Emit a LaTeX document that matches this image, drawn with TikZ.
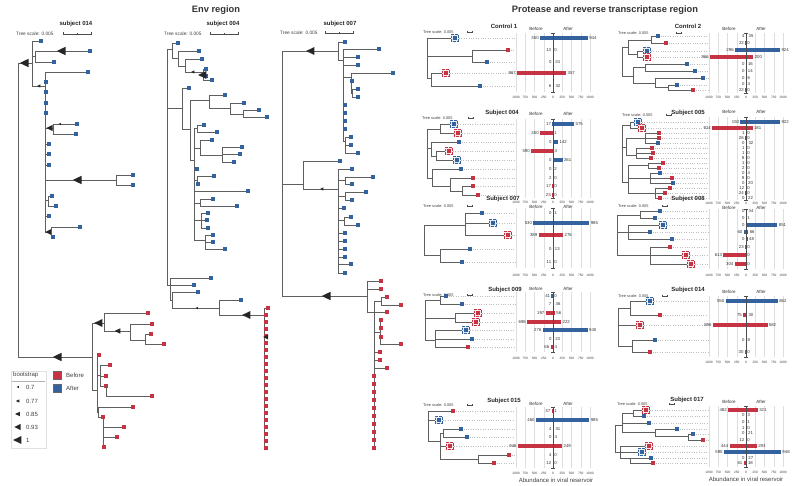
\documentclass[tikz,border=0pt]{standalone}
\usepackage{fontspec}
\setmainfont{Liberation Sans}
\definecolor{cB}{RGB}{52,98,158}
\definecolor{cR}{RGB}{198,52,68}
\definecolor{tg}{RGB}{95,95,95}
\definecolor{gl}{RGB}{222,222,222}
\tikzset{
  br/.style={draw=tg, line width=0.7pt},
  guide/.style={draw=black!25, line width=0.4pt, dotted},
  gridl/.style={draw=gl, line width=0.5pt},
  axisl/.style={draw=black!70, line width=0.6pt},
  ttl/.style={font=\fontsize{9.3}{10}\selectfont\bfseries, text=black!80, inner sep=0pt},
  subt/.style={font=\fontsize{6}{7}\selectfont\bfseries, text=black!85, inner sep=0pt},
  tse/.style={font=\fontsize{4.8}{5}\selectfont, text=black!75, inner sep=0pt, anchor=west},
  tsp/.style={font=\fontsize{3.9}{4}\selectfont, text=black!75, inner sep=0pt, anchor=west},
  num/.style={font=\fontsize{4.3}{5}\selectfont, text=black!80, inner sep=0pt},
  tick/.style={font=\fontsize{3.2}{4}\selectfont, text=black!75, inner sep=0pt},
  hd/.style={font=\fontsize{4.5}{5}\selectfont, text=black!80, inner sep=0pt},
  legt/.style={font=\fontsize{6}{7}\selectfont, text=black!75, inner sep=0pt, anchor=west},
}
\newcommand\Hl[3]{\draw[br] (#1,#3) -- (#2,#3);}
\newcommand\Vl[3]{\draw[br] (#1,#2) -- (#1,#3);}
\newcommand\LfB[3]{\draw[br] (#1,#2) -- (#3,#2); \fill[cB] (#3,#2) +(-1.8,-1.8) rectangle +(1.8,1.8);}
\newcommand\LfR[3]{\draw[br] (#1,#2) -- (#3,#2); \fill[cR] (#3,#2) +(-1.8,-1.8) rectangle +(1.8,1.8);}
\newcommand\Bt[3]{\fill[black!85] ({#1-#3*0.75},#2) -- ({#1+#3*0.5},{#2-#3*0.6}) -- ({#1+#3*0.5},{#2+#3*0.6}) -- cycle;}
\def\gx{515}
\newcommand\PB[3]{\draw[guide] ({#3+2.5},#2) -- (\gx,#2); \LfB{#1}{#2}{#3}}
\newcommand\PR[3]{\draw[guide] ({#3+2.5},#2) -- (\gx,#2); \LfR{#1}{#2}{#3}}
\newcommand\PBx[3]{\draw[guide] ({#3+4},#2) -- (\gx,#2); \draw[br] (#1,#2) -- ({#3-3.6},#2); \filldraw[cB, fill=cB!12, densely dotted, line width=0.4pt] (#3,#2) +(-3.6,-3.6) rectangle +(3.6,3.6); \fill[cB] (#3,#2) +(-1.7,-1.7) rectangle +(1.7,1.7);}
\newcommand\PRx[3]{\draw[guide] ({#3+4},#2) -- (\gx,#2); \draw[br] (#1,#2) -- ({#3-3.6},#2); \filldraw[cR, fill=cR!12, densely dotted, line width=0.4pt] (#3,#2) +(-3.6,-3.6) rectangle +(3.6,3.6); \fill[cR] (#3,#2) +(-1.7,-1.7) rectangle +(1.7,1.7);}
\newcommand\Chart[4]{%
  \foreach \k in {-4,...,4} {\draw[gridl] ({#1+\k*9.25},#2) -- ({#1+\k*9.25},#3);}
  \foreach \k/\t in {-4/1000,-3/750,-2/500,-1/250,0/0,1/250,2/500,3/750,4/1000}
    {\node[tick] (tk#1x\k) at ({#1+\k*9.25},#4) {\t};}
}
\newcommand\Axis[3]{\draw[axisl] (#1,#2) -- (#1,#3) ({#1-1.8},#2) -- ({#1+1.8},#2) ({#1-1.8},#3) -- ({#1+1.8},#3);}
\newcommand\Brow[5]{%
  \fill[#5] ({#1-#3*0.037},{#2-2}) rectangle ({#1+#4*0.037},{#2+2});
  \node[num,anchor=east] (nl#1x#2) at ({#1-#3*0.037-1.2},#2) {#3};
  \node[num,anchor=west] (nr#1x#2) at ({#1+#4*0.037+1.2},#2) {#4};}
\newcommand\Heads[2]{\node[hd] (hb#1x#2) at ({#1-17},#2) {Before}; \node[hd] (ha#1x#2) at ({#1+15},#2) {After};}
\newcommand\TSp[3]{\node[tsp] (tsp#1x#2) at (#1,#2) {Tree scale: 0.005}; \draw[black!70, line width=0.4pt] (#3,#2) -- ({#3+5},#2) (#3,{#2-1}) -- (#3,{#2+1}) ({#3+5},{#2-1}) -- ({#3+5},{#2+1});}
\newcommand\TSe[3]{\node[tse] (tse#1) at (#1,#2) {Tree scale: 0.005}; \draw[black!70, line width=0.5pt] (#3,#2) -- ({#3+28},#2) (#3,{#2-1.5}) -- (#3,{#2+1.5}) ({#3+14},{#2-1}) -- ({#3+14},{#2+1}) ({#3+28},{#2-1.5}) -- ({#3+28},{#2+1.5});}

\begin{document}
\begin{tikzpicture}[x=1pt,y=-1pt]
\useasboundingbox (0,0) rectangle (798,486);
\fill[white] (0,0) rectangle (798,486);

% ---------------- titles
\node[ttl] (envt) at (216,10) {Env region};
\node[ttl] (prt) at (605,10) {Protease and reverse transcriptase region};

% ---------------- Env subject 014
\node[subt] (s14) at (76,24) {subject 014};
\TSe{16}{34}{63}
\Vl{18}{63}{357}
\Hl{18}{32}{63} \Bt{25}{63}{7}
\Vl{32}{41}{86}
\LfB{32}{41}{41}
\Hl{32}{35}{56} \Vl{35}{51}{62} \LfB{35}{51}{90} \Bt{62}{51}{7} \LfB{35}{62}{54}
\Hl{32}{45}{86} \Bt{39}{86}{2.5}
\Vl{45}{72}{232}
\LfB{45}{72}{88}
\LfB{45}{82}{46} \LfB{45}{92}{46} \LfB{45}{103}{46} \LfB{45}{113}{46}
\Hl{45}{53}{128} \Bt{50}{128}{5} \Vl{53}{124}{134} \LfB{53}{124}{77} \Bt{60}{124}{1.8} \LfB{53}{134}{76}
\LfB{45}{144}{49} \LfB{45}{154}{49} \LfB{45}{165}{49}
\Hl{45}{116}{180} \Bt{78}{180}{7} \Vl{116}{175}{185} \LfB{116}{175}{133} \LfB{116}{185}{133}
\Hl{45}{48}{200} \Vl{48}{196}{206} \LfB{48}{196}{52} \LfB{48}{206}{56}
\LfB{45}{216}{49}
\Hl{45}{51}{232} \Bt{49}{232}{5} \Vl{51}{227}{237} \LfB{51}{227}{80} \LfB{51}{237}{53}
\Hl{18}{92}{357} \Bt{58}{357}{7}
\Vl{92}{323}{390}
\Hl{92}{104}{323} \Bt{99}{323}{6.5}
\Vl{104}{313}{331}
\LfR{104}{313}{148}
\Hl{104}{130}{331} \Bt{118}{331}{4.5}
\Vl{130}{324}{340}
\LfR{130}{324}{152}
\Hl{130}{145}{340} \Vl{145}{334}{344} \LfR{145}{334}{151} \LfR{145}{344}{164}
\Hl{92}{97}{390}
\Vl{97}{355}{412}
\LfR{97}{355}{99}
\Hl{97}{100}{375} \Vl{100}{365}{386} \LfR{100}{365}{110} \LfR{100}{376}{106} \LfR{100}{386}{106}
\Vl{106}{386}{396} \LfR{106}{396}{152}
\Hl{97}{98}{412} \Vl{98}{407}{417} \LfR{98}{407}{133} \LfR{98}{417}{103}
\Vl{103}{417}{447} \LfR{103}{427}{124} \LfR{103}{437}{117} \LfR{103}{447}{104}

% legend
\draw[black!12, line width=0.4pt] (11,371) rectangle (46,448);
\node[legt] (lgh) at (13,375) {bootstrap};
\draw[black!30, line width=0.4pt] (12,381) -- (45,381);
\Bt{18}{387}{1.8} \node[legt] (lg1) at (26,387) {0.7};
\Bt{18}{401}{2.8} \node[legt] (lg2) at (26,401) {0.77};
\Bt{18}{414}{3.8} \node[legt] (lg3) at (26,414) {0.85};
\Bt{18}{427}{5} \node[legt] (lg4) at (26,427) {0.93};
\Bt{18}{440}{6.5} \node[legt] (lg5) at (26,440) {1};
\filldraw[fill=cR, draw=black!60, line width=0.4pt] (53,371) rectangle (61,379);
\node[legt] (lgb) at (66,375) {Before};
\filldraw[fill=cB, draw=black!60, line width=0.4pt] (53,384) rectangle (61,392);
\node[legt] (lga) at (66,388) {After};

% ---------------- Env subject 004
\node[subt] (s04) at (223,24) {subject 004};
\TSe{164}{34}{210}
\Vl{167}{49}{285}
\Hl{167}{172}{49} \Vl{172}{43}{58}
\LfB{172}{43}{178}
\Hl{172}{178}{58} \Vl{178}{51}{66}
\LfB{178}{51}{199}
\Hl{178}{185}{66} \Vl{185}{59}{72}
\LfB{185}{59}{202}
\Hl{185}{203}{72} \Bt{193}{72}{2.5}
\Vl{203}{69}{80} \LfB{203}{69}{206} \LfB{203}{76}{206} \LfB{203}{80}{212} \Bt{203}{75}{6.5}
\Hl{167}{182}{108} \Vl{182}{88}{129} \LfB{182}{88}{189}
\Hl{182}{190}{129} \Vl{190}{100}{160}
\Hl{190}{209}{100} \Vl{209}{95}{108} \LfB{209}{95}{225}
\Hl{209}{230}{108} \Vl{230}{103}{114} \LfB{230}{103}{244}
\Hl{230}{243}{114} \Vl{243}{110}{117} \LfB{243}{110}{259} \LfB{243}{117}{267}
\Hl{190}{194}{160} \Vl{194}{128}{240}
\Hl{194}{197}{128} \Vl{197}{125}{132} \LfB{197}{125}{204} \LfB{197}{132}{217}
\Hl{194}{200}{148} \Vl{200}{140}{155} \LfB{200}{140}{212}
\Hl{200}{222}{155} \Vl{222}{147}{162} \LfB{222}{147}{242} \LfB{222}{154}{240} \LfB{222}{162}{234}
\LfB{194}{169}{197}
\Hl{194}{197}{180} \Vl{197}{176}{184} \LfB{197}{176}{214} \LfB{197}{184}{198}
\LfB{194}{191}{248}
\Hl{194}{200}{203} \Vl{200}{199}{206} \LfB{200}{199}{213} \LfB{200}{206}{237}
\Hl{194}{201}{220} \Vl{201}{213}{228} \LfB{201}{213}{208} \LfB{201}{220}{207} \LfB{201}{228}{208}
\Hl{194}{205}{240} \Vl{205}{235}{249} \LfB{205}{235}{213} \LfB{205}{242}{213} \LfB{205}{249}{225}
\Hl{167}{170}{285} \Vl{170}{278}{300}
\LfB{170}{278}{211} \LfB{170}{285}{194}
\Hl{170}{172}{300} \Vl{172}{292}{308}
\LfB{172}{292}{198}
\Hl{172}{219}{308} \Bt{197}{308}{1.8}
\Vl{219}{300}{315} \LfB{219}{300}{241}
\Hl{219}{264}{315} \Bt{247}{315}{6.5}
\Vl{264}{308}{448}
\LfR{264}{308}{268}
\foreach \yy in {315,322,...,448} {\LfR{264}{\yy}{266}}
\Bt{266}{337}{4}

% ---------------- Env subject 007
\node[subt] (s07) at (340,24) {subject 007};
\TSe{280}{33}{325}
\Vl{282}{51}{296}
\Hl{282}{338}{51} \Bt{311}{51}{6.5}
\Vl{338}{42}{60}
\LfB{338}{42}{345}
\Hl{338}{343}{60} \Vl{343}{49}{141}
\LfB{343}{49}{379} \LfB{343}{57}{358} \LfB{343}{65}{358}
\Hl{343}{351}{77} \Vl{351}{73}{93} \LfB{351}{73}{393} \LfB{351}{81}{352}
\Hl{351}{352}{93} \Vl{352}{89}{97} \LfB{352}{89}{358} \LfB{352}{97}{358}
\LfB{343}{105}{345} \LfB{343}{113}{345} \LfB{343}{121}{345} \LfB{343}{129}{345}
\Hl{343}{345}{141} \Vl{345}{137}{153} \LfB{345}{137}{351} \LfB{345}{145}{351} \LfB{345}{153}{358}
\Hl{282}{303}{184} \Vl{303}{161}{189}
\LfB{303}{161}{340}
\Hl{303}{338}{189} \Bt{322}{189}{2.5}
\Vl{338}{169}{273}
\LfB{338}{169}{352}
\Hl{338}{345}{180} \Vl{345}{177}{184} \LfB{345}{177}{373} \LfB{345}{184}{352}
\Hl{338}{345}{196} \Vl{345}{192}{200} \LfB{345}{192}{366} \LfB{345}{200}{352}
\LfB{338}{208}{344}
\Hl{338}{344}{220} \Vl{344}{217}{225} \LfB{344}{217}{351} \LfB{344}{225}{358}
\LfB{338}{233}{345} \LfB{338}{241}{345} \LfB{338}{249}{345} \LfB{338}{257}{345}
\Hl{338}{345}{264} \LfB{345}{264}{351}
\LfB{338}{273}{345}
\Hl{282}{367}{296} \Bt{327}{296}{7}
\Vl{367}{281}{312}
\LfR{367}{281}{381} \LfR{367}{289}{381}
\Hl{367}{374}{312} \Vl{374}{301}{448}
\Hl{374}{381}{301} \Vl{381}{297}{305} \LfR{381}{297}{387} \LfR{381}{305}{401}
\LfR{374}{312}{387}
\Hl{374}{380}{332} \Vl{380}{320}{344} \LfR{380}{320}{381} \LfR{380}{328}{381} \LfR{380}{337}{381} \LfR{380}{344}{401}
\LfR{374}{352}{380} \LfR{374}{360}{380} \LfR{374}{368}{387}
\foreach \yy in {376,384,...,448} {\LfR{374}{\yy}{374}}

% ================ Protease panels
% ---- Control 1
\def\gx{515}
\node[subt] (pc1) at (504,26) {Control 1};
\TSp{423}{32}{467}
\Chart{553}{33}{92}{97}
\Heads{553}{29}
\Vl{427}{38}{78}
\PBx{427}{38}{455}
\Hl{427}{472}{56} \Vl{472}{50}{62} \PR{472}{50}{508} \PB{472}{62}{487}
\Hl{427}{431}{78} \Vl{431}{73}{86} \PRx{431}{73}{446} \PB{431}{86}{480}
\Brow{553}{38}{350}{944}{cB} \Brow{553}{50}{13}{0}{cR} \Brow{553}{62}{0}{24}{cB}
\Brow{553}{73}{967}{357}{cR} \Brow{553}{86}{6}{32}{cB}
\Axis{553}{33}{92}

% ---- Control 2
\def\gx{708}
\node[subt] (pc2) at (688,26) {Control 2};
\TSp{618}{33}{676}
\Chart{746}{33}{93}{97}
\Heads{746}{29}
\Vl{622}{47}{76}
\Hl{622}{628}{47} \Vl{628}{40}{54}
\Hl{628}{651}{40} \Vl{651}{36}{43} \PB{651}{36}{658} \PR{651}{43}{666}
\Hl{628}{637}{54} \Vl{637}{51}{57} \PBx{637}{51}{647} \PRx{637}{57}{647}
\Hl{622}{633}{76} \Vl{633}{67}{83}
\Hl{633}{645}{67} \Vl{645}{64}{71} \PB{645}{64}{687} \PB{645}{71}{695}
\Hl{633}{655}{83} \Vl{655}{78}{87} \PB{655}{78}{703}
\Hl{655}{668}{87} \Vl{668}{85}{90} \PB{668}{85}{677} \PR{668}{90}{693}
\Brow{746}{36}{4}{35}{cB} \Brow{746}{43}{22}{0}{cR} \Brow{746}{50}{296}{924}{cB}
\Brow{746}{57}{966}{200}{cR} \Brow{746}{64}{0}{16}{cB} \Brow{746}{71}{0}{14}{cB}
\Brow{746}{78}{0}{6}{cB} \Brow{746}{84}{0}{4}{cB} \Brow{746}{90}{22}{0}{cR}
\Axis{746}{33}{93}

% ---- Subject 004
\def\gx{515}
\node[subt] (p04) at (502,113) {Subject 004};
\TSp{422}{118}{468}
\Chart{553}{119}{198}{202}
\Heads{553}{114}
\Vl{427}{129}{178}
\Hl{427}{440}{129} \Vl{440}{124}{133} \PBx{440}{124}{454} \PRx{440}{133}{458}
\Hl{427}{431}{148} \Vl{431}{142}{156} \PB{431}{142}{459}
\Hl{431}{436}{156} \Vl{436}{151}{160} \PRx{436}{151}{449} \PBx{436}{160}{457}
\Hl{427}{432}{178} \Vl{432}{169}{186} \PB{432}{169}{461}
\Hl{432}{450}{186} \Vl{450}{178}{191} \PR{450}{178}{473}
\Hl{450}{462}{191} \Vl{462}{186}{195} \PR{462}{186}{473} \PR{462}{195}{478}
\Brow{553}{124}{17}{575}{cB} \Brow{553}{133}{350}{1}{cR} \Brow{553}{142}{0}{142}{cB}
\Brow{553}{151}{590}{4}{cR} \Brow{553}{160}{0}{261}{cB} \Brow{553}{169}{0}{2}{cB}
\Brow{553}{178}{2}{0}{cR} \Brow{553}{186}{17}{0}{cR} \Brow{553}{195}{23}{0}{cR}
\Axis{553}{119}{198}

% ---- Subject 005
\def\gx{708}
\node[subt] (p05) at (688,113) {Subject 005};
\TSp{622}{115}{666}
\Chart{746}{117}{200.5}{203.5}
\Heads{746}{112}
\Vl{622}{125}{182}
\Hl{622}{630}{125} \Vl{630}{122}{128} \PBx{630}{122}{638} \PRx{630}{128}{642}
\Hl{622}{626}{147} \Vl{626}{138}{155}
\Hl{626}{645}{138} \Vl{645}{133}{143} \PR{645}{133}{659} \PR{645}{138}{659} \PB{645}{143}{658}
\Hl{626}{636}{155} \Vl{636}{148}{158} \PR{636}{148}{652} \PR{636}{153}{653} \PR{636}{158}{651}
\Hl{622}{628}{182} \Vl{628}{165}{193}
\Hl{628}{648}{165} \Vl{648}{163}{168} \PR{648}{163}{663} \PR{648}{168}{659}
\Hl{628}{650}{178} \Vl{650}{173}{183} \PB{650}{173}{660} \PR{650}{178}{672} \PB{650}{183}{673}
\Hl{628}{655}{193} \Vl{655}{188}{198} \PR{655}{188}{670} \PR{655}{193}{665} \PR{655}{198}{660}
\Brow{746}{122}{150}{922}{cB} \Brow{746}{128}{914}{181}{cR}
\Brow{746}{133}{1}{0}{cR} \Brow{746}{138}{26}{0}{cR} \Brow{746}{143}{0}{32}{cB}
\Brow{746}{148}{1}{0}{cR} \Brow{746}{153}{1}{0}{cR} \Brow{746}{158}{8}{0}{cR}
\Brow{746}{163}{1}{0}{cR} \Brow{746}{168}{2}{0}{cR} \Brow{746}{173}{0}{4}{cB}
\Brow{746}{178}{9}{0}{cR} \Brow{746}{183}{0}{20}{cB} \Brow{746}{188}{12}{0}{cR}
\Brow{746}{193}{24}{0}{cR} \Brow{746}{198}{0}{22}{cB}
\Axis{746}{117}{200.5}

% ---- Subject 007
\def\gx{515}
\node[subt] (p07) at (503,199) {Subject 007};
\TSp{423}{206}{467}
\Chart{553}{208}{268}{275}
\Heads{553}{207}
\Vl{424}{225}{255}
\Hl{424}{465}{225} \Vl{465}{213}{235} \PB{465}{213}{482} \PBx{465}{223}{493} \PRx{465}{235}{508}
\Hl{424}{440}{255} \Vl{440}{249}{262} \PB{440}{249}{470} \PB{440}{262}{462}
\Brow{553}{213}{0}{1}{cB} \Brow{553}{223}{530}{985}{cB} \Brow{553}{235}{389}{276}{cR}
\Brow{553}{249}{0}{13}{cB} \Brow{553}{262}{11}{0}{cB}
\Axis{553}{208}{268}

% ---- Subject 008
\def\gx{708}
\node[subt] (p08) at (688,199) {Subject 008};
\TSp{618}{206}{662}
\Chart{746}{209}{269}{275}
\Heads{746}{207.5}
\Vl{617}{215}{255}
\Hl{617}{640}{215} \Vl{640}{211}{218} \PB{640}{211}{660} \PB{640}{218}{655}
\Hl{617}{628}{232} \Vl{628}{225}{239} \PBx{628}{225}{663} \PB{628}{232}{650} \PB{628}{239}{672}
\Hl{617}{650}{255} \Vl{650}{247}{264} \PR{650}{247}{670} \PRx{650}{255}{686} \PRx{650}{264}{691}
\Brow{746}{211}{0}{34}{cB} \Brow{746}{218}{0}{1}{cB} \Brow{746}{225}{0}{851}{cB}
\Brow{746}{232}{60}{66}{cB} \Brow{746}{239}{0}{48}{cB} \Brow{746}{247}{23}{0}{cR}
\Brow{746}{255}{613}{0}{cR} \Brow{746}{264}{304}{0}{cR}
\Axis{746}{209}{269}

% ---- Subject 009
\def\gx{515}
\node[subt] (p09) at (505,290) {Subject 009};
\TSp{423}{295}{467}
\Chart{553}{292}{352}{358}
\Heads{553}{289}
\Vl{425}{300}{340}
\Hl{425}{440}{300} \Vl{440}{296}{304} \PB{440}{296}{446} \PB{440}{304}{462}
\Hl{425}{455}{318} \Vl{455}{313}{322} \PRx{455}{313}{478} \PRx{455}{322}{476}
\Hl{425}{435}{340} \Vl{435}{330}{347} \PBx{435}{330}{466} \PB{435}{339}{472} \PR{435}{347}{468}
\Brow{553}{296}{41}{0}{cB} \Brow{553}{304}{7}{36}{cB} \Brow{553}{313}{197}{56}{cR}
\Brow{553}{322}{696}{222}{cR} \Brow{553}{330}{276}{940}{cB} \Brow{553}{339}{0}{23}{cB}
\Brow{553}{347}{66}{4}{cR}
\Axis{553}{292}{352}

% ---- Subject 014
\def\gx{708}
\node[subt] (p14) at (688,290) {Subject 014};
\TSp{618}{296}{662}
\Chart{746}{296}{357}{362}
\Heads{746}{292}
\Vl{618}{308}{346}
\Hl{618}{630}{308} \Vl{630}{301}{315} \PBx{630}{301}{650} \PR{630}{315}{660}
\PRx{618}{325}{640}
\Hl{618}{632}{346} \Vl{632}{340}{352} \PB{632}{340}{655} \PR{632}{352}{650}
\Brow{746}{301}{550}{862}{cB} \Brow{746}{315}{75}{30}{cR} \Brow{746}{325}{896}{582}{cR}
\Brow{746}{340}{0}{8}{cB} \Brow{746}{352}{30}{0}{cR}
\Axis{746}{296}{357}

% ---- Subject 015
\def\gx{515}
\node[subt] (p15) at (504,401) {Subject 015};
\TSp{423}{405}{467}
\Chart{553}{407}{468}{473}
\Heads{553}{404}
\Vl{428}{411}{441}
\PR{428}{411}{453} \PBx{428}{420}{439}
\Hl{428}{440}{441} \Vl{440}{433}{459}
\Hl{440}{443}{433} \Vl{443}{429}{437} \PB{443}{429}{461} \PB{443}{437}{467}
\PRx{440}{446}{450}
\Hl{440}{478}{459} \Vl{478}{455}{463} \PR{478}{455}{509} \PR{478}{463}{494}
\Brow{553}{411}{37}{1}{cR} \Brow{553}{420}{460}{985}{cB} \Brow{553}{429}{4}{31}{cB}
\Brow{553}{437}{0}{4}{cB} \Brow{553}{446}{946}{249}{cR} \Brow{553}{455}{4}{0}{cR}
\Brow{553}{463}{12}{0}{cR}
\Axis{553}{407}{468}
\node[legt, anchor=center] (ab1) at (556,480) {Abundance in viral reservoir};

% ---- Subject 017
\def\gx{708}
\node[subt] (p17) at (687,400) {Subject 017};
\TSp{617}{404}{669}
\Chart{746}{406}{467}{472}
\Heads{746}{402}
\Vl{615}{425}{452}
\Hl{615}{622}{425} \Vl{622}{413}{432}
\Hl{622}{633}{413} \Vl{633}{410}{416} \PRx{633}{410}{646} \PB{633}{416}{644}
\PB{622}{423}{649}
\Hl{622}{655}{432} \Vl{655}{429}{436} \PB{655}{429}{677}
\Hl{655}{688}{436} \Vl{688}{434}{440} \PB{688}{434}{693} \PR{688}{440}{703}
\Hl{615}{620}{452} \Vl{620}{446}{458} \PRx{620}{446}{649} \PBx{620}{452}{642}
\Hl{620}{630}{458} \Vl{630}{458}{463} \PB{630}{458}{651} \PR{630}{463}{653}
\Brow{746}{410}{482}{321}{cR} \Brow{746}{415}{0}{3}{cB} \Brow{746}{422}{0}{1}{cB}
\Brow{746}{428}{1}{0}{cB} \Brow{746}{433}{0}{21}{cB} \Brow{746}{440}{12}{0}{cR}
\Brow{746}{446}{444}{293}{cR} \Brow{746}{452}{595}{948}{cB} \Brow{746}{458}{0}{27}{cB}
\Brow{746}{463}{61}{18}{cR}
\Axis{746}{406}{467}
\node[legt, anchor=center] (ab2) at (746,479) {Abundance in viral reservoir};
\end{tikzpicture}
\end{document}
